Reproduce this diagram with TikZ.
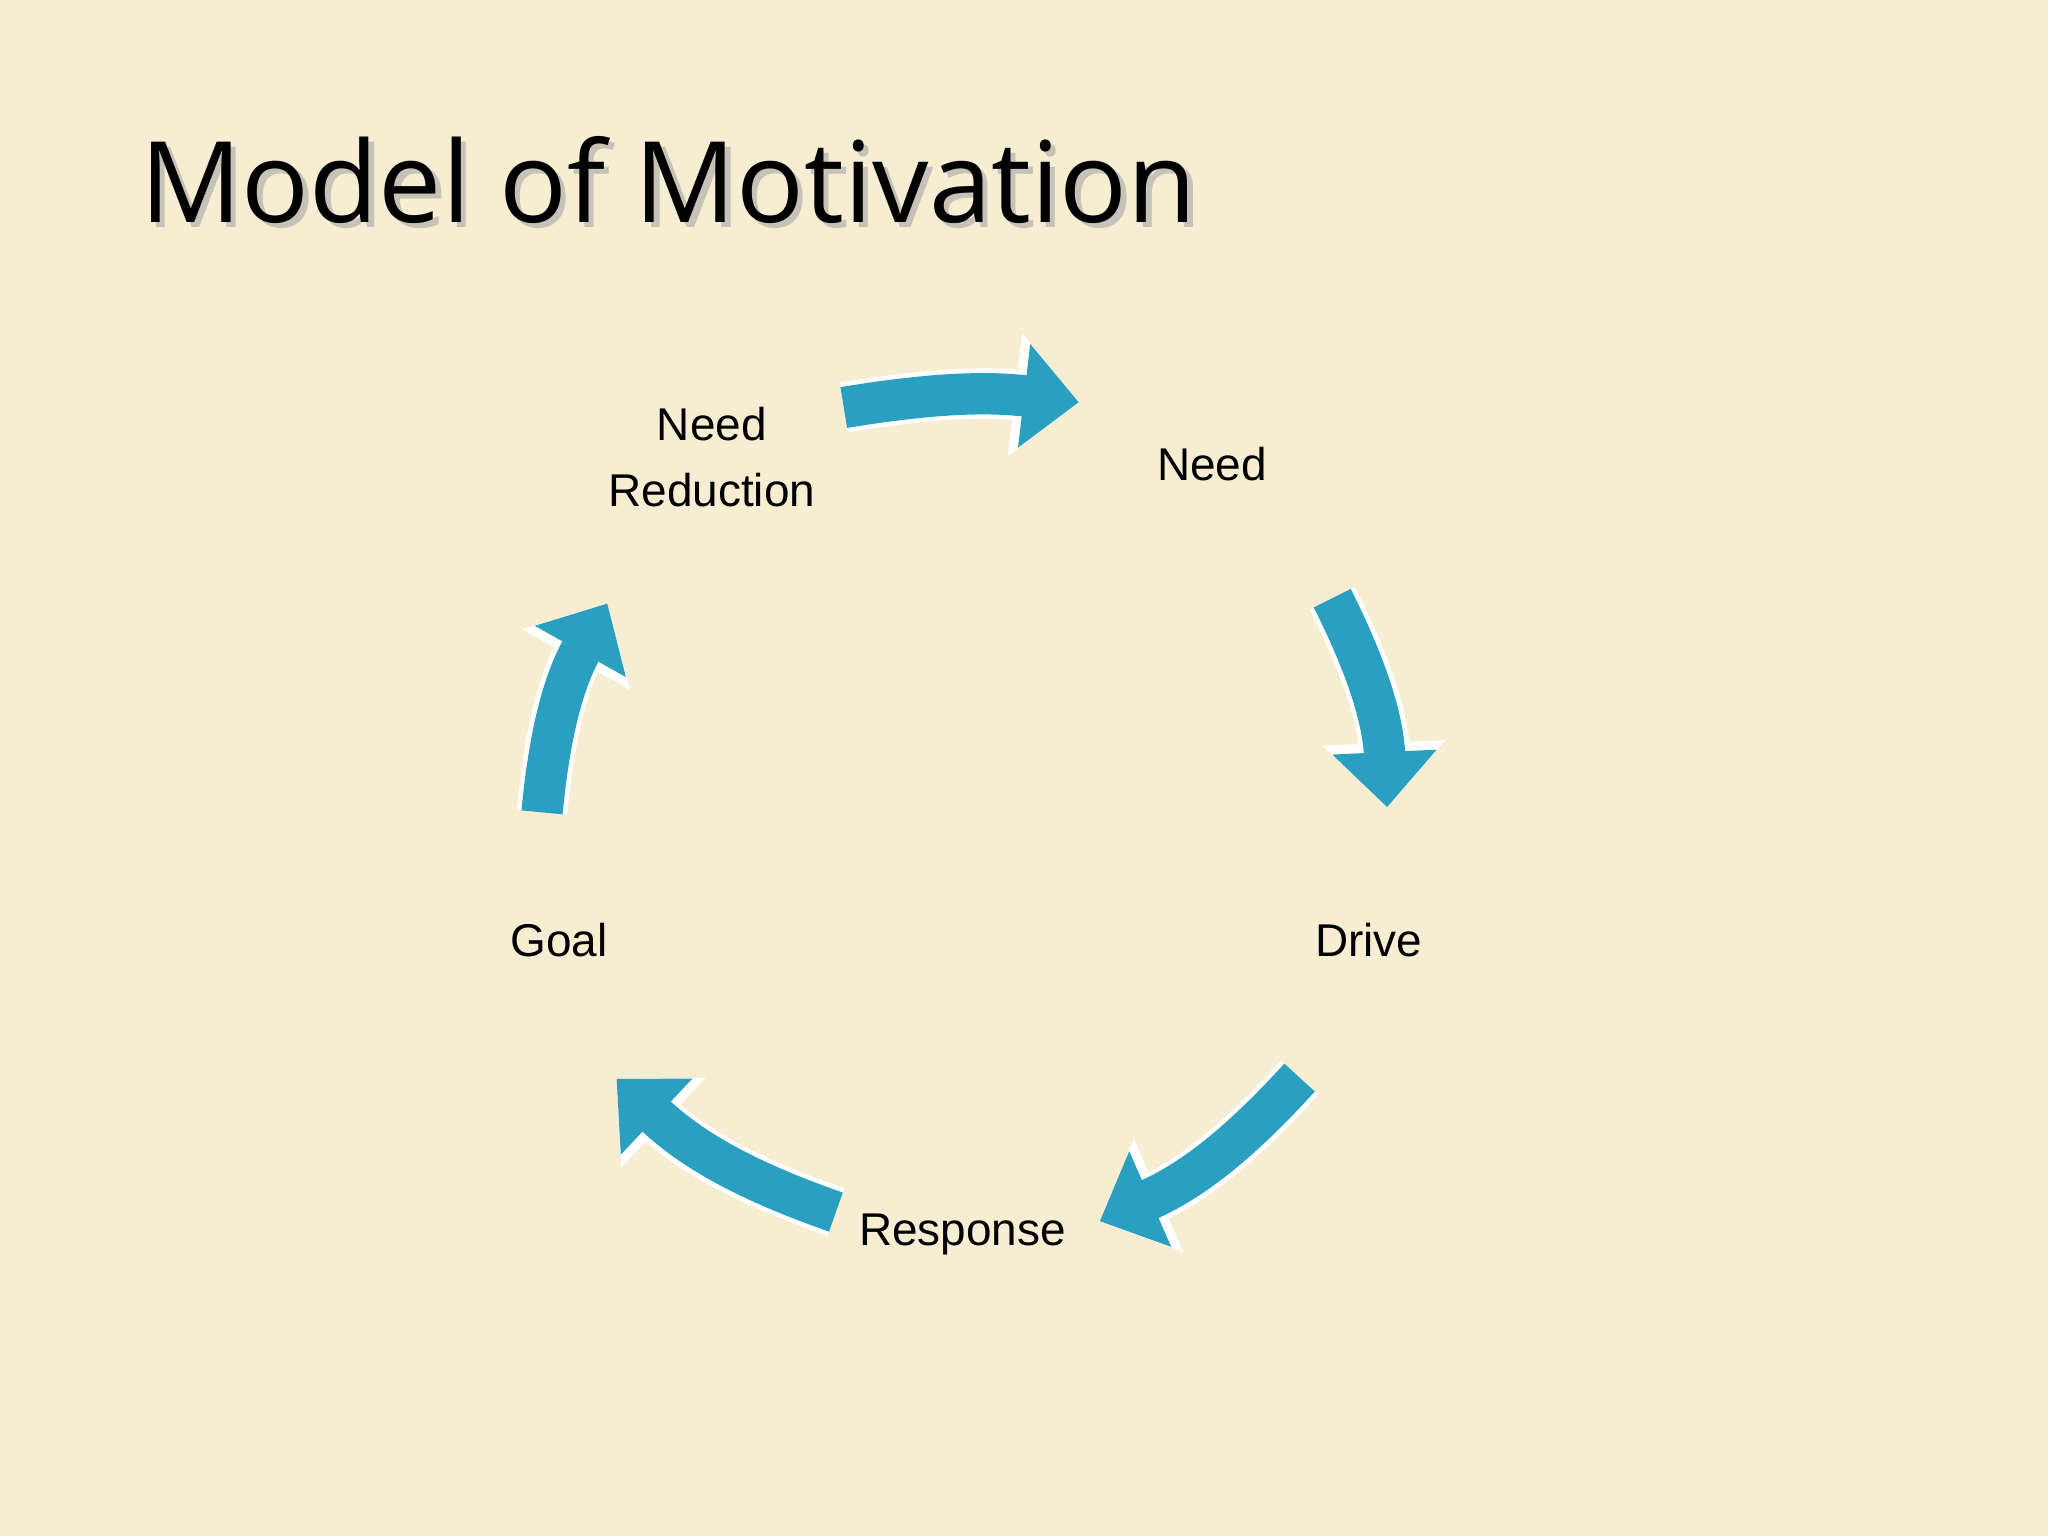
\documentclass[tikz,border=0pt]{standalone}
\usepackage{fontspec}
\setmainfont{Liberation Sans}
\newfontfamily\titlefont{Open Sans}
\usetikzlibrary{arrows.meta}
\definecolor{bg}{HTML}{F7EDD2}
\definecolor{teal}{HTML}{2A9FC0}
\tikzset{
  lbl/.style={font=\fontsize{10}{14.5}\selectfont, align=center, text=black},
  cyc/.style={line width=9pt, teal, -{Triangle[width=22pt,length=12pt]}},
  cycw/.style={line width=11pt, white, -{Triangle[width=26pt,length=14pt]}}
}
\begin{document}
\begin{tikzpicture}[x=0.01cm,y=-0.01cm]
\fill[bg] (0,0) rectangle (1568,1176);
\useasboundingbox (0,0) rectangle (1568,1176);
\node[anchor=west, font=\titlefont\fontsize{24.5}{28}\selectfont, text=black!35, opacity=0.6] at (99,142) {Model of Motivation};
\node[anchor=west, font=\titlefont\fontsize{24.5}{28}\selectfont] (title) at (95,138) {Model of Motivation};
\node[lbl] (nr) at (545,350) {Need\\Reduction};
\node[lbl] (need) at (928,355) {Need};
\node[lbl] (drive) at (1048,720) {Drive};
\node[lbl] (resp) at (737,945) {Response};
\node[lbl] (goal) at (428,720) {Goal};
\coordinate (a1s) at (646,312); \coordinate (a1e) at (826,308);
\coordinate (a2s) at (1020,458); \coordinate (a2e) at (1062,618);
\coordinate (a3s) at (995,825); \coordinate (a3e) at (842,935);
\coordinate (a4s) at (640,928); \coordinate (a4e) at (472,826);
\coordinate (a5s) at (415,622); \coordinate (a5e) at (465,462);
\foreach \s/\e/\b in {a1s/a1e/8, a2s/a2e/12, a3s/a3e/12, a4s/a4e/12, a5s/a5e/12}{
  \draw[cycw] (\s) to[bend left=\b] (\e);
}
\foreach \s/\e/\b in {a1s/a1e/8, a2s/a2e/12, a3s/a3e/12, a4s/a4e/12, a5s/a5e/12}{
  \draw[cyc] (\s) to[bend left=\b] (\e);
}
\end{tikzpicture}
\end{document}
